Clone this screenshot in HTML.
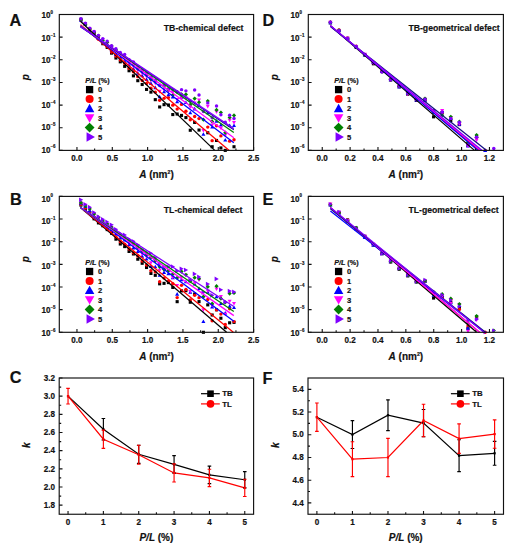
<!DOCTYPE html><html><head><meta charset="utf-8"><style>html,body{margin:0;padding:0;background:#fff}svg{display:block}</style></head><body><svg width="517" height="550" viewBox="0 0 517 550">
<style>text{font-family:"Liberation Sans",sans-serif;font-weight:bold;fill:#111;stroke:#111;stroke-width:0.18px}.t{font-size:8.1px}.al{font-size:10px}.lg{font-size:7.6px}.tt{font-size:8.7px}</style>
<rect width="517" height="550" fill="#fff"/>
<g>
<rect x="79.39" y="17.79" width="3.1" height="3.1" fill="#000000"/><rect x="83.77" y="22.07" width="3.1" height="3.1" fill="#000000"/><rect x="88.14" y="27.63" width="3.1" height="3.1" fill="#000000"/><rect x="92.51" y="31.35" width="3.1" height="3.1" fill="#000000"/><rect x="96.89" y="36.81" width="3.1" height="3.1" fill="#000000"/><rect x="101.26" y="42.16" width="3.1" height="3.1" fill="#000000"/><rect x="105.63" y="45.84" width="3.1" height="3.1" fill="#000000"/><rect x="110.01" y="51.58" width="3.1" height="3.1" fill="#000000"/><rect x="114.38" y="56.49" width="3.1" height="3.1" fill="#000000"/><rect x="118.75" y="60.26" width="3.1" height="3.1" fill="#000000"/><rect x="123.13" y="64.81" width="3.1" height="3.1" fill="#000000"/><rect x="127.5" y="69.2" width="3.1" height="3.1" fill="#000000"/><rect x="131.87" y="74.28" width="3.1" height="3.1" fill="#000000"/><rect x="136.25" y="79.14" width="3.1" height="3.1" fill="#000000"/><rect x="140.62" y="82.96" width="3.1" height="3.1" fill="#000000"/><rect x="144.99" y="87.86" width="3.1" height="3.1" fill="#000000"/><rect x="149.37" y="90.56" width="3.1" height="3.1" fill="#000000"/><rect x="153.74" y="98.11" width="3.1" height="3.1" fill="#000000"/><rect x="158.11" y="105.43" width="3.1" height="3.1" fill="#000000"/><rect x="162.49" y="103.09" width="3.1" height="3.1" fill="#000000"/><rect x="166.86" y="103.45" width="3.1" height="3.1" fill="#000000"/><rect x="171.24" y="113.01" width="3.1" height="3.1" fill="#000000"/><rect x="175.61" y="112.47" width="3.1" height="3.1" fill="#000000"/><rect x="179.98" y="113.86" width="3.1" height="3.1" fill="#000000"/><rect x="184.36" y="116.03" width="3.1" height="3.1" fill="#000000"/><rect x="188.73" y="128.7" width="3.1" height="3.1" fill="#000000"/><rect x="193.1" y="120.86" width="3.1" height="3.1" fill="#000000"/><rect x="197.48" y="128.5" width="3.1" height="3.1" fill="#000000"/><rect x="206.22" y="131.22" width="3.1" height="3.1" fill="#000000"/><rect x="210.6" y="145.2" width="3.1" height="3.1" fill="#000000"/><rect x="214.97" y="138.91" width="3.1" height="3.1" fill="#000000"/><rect x="219.34" y="146.38" width="3.1" height="3.1" fill="#000000"/><rect x="223.72" y="148.85" width="3.1" height="3.1" fill="#000000"/><rect x="232.46" y="145.2" width="3.1" height="3.1" fill="#000000"/>
<circle cx="80.94" cy="20.11" r="1.71" fill="#ff0000"/><circle cx="85.32" cy="24.49" r="1.71" fill="#ff0000"/><circle cx="89.69" cy="29.8" r="1.71" fill="#ff0000"/><circle cx="94.06" cy="33.39" r="1.71" fill="#ff0000"/><circle cx="98.44" cy="39.24" r="1.71" fill="#ff0000"/><circle cx="102.81" cy="42.73" r="1.71" fill="#ff0000"/><circle cx="107.18" cy="46.15" r="1.71" fill="#ff0000"/><circle cx="111.56" cy="51.98" r="1.71" fill="#ff0000"/><circle cx="115.93" cy="55.97" r="1.71" fill="#ff0000"/><circle cx="120.3" cy="60" r="1.71" fill="#ff0000"/><circle cx="124.68" cy="63.39" r="1.71" fill="#ff0000"/><circle cx="129.05" cy="68.24" r="1.71" fill="#ff0000"/><circle cx="133.42" cy="71.77" r="1.71" fill="#ff0000"/><circle cx="137.8" cy="76.66" r="1.71" fill="#ff0000"/><circle cx="142.17" cy="80.55" r="1.71" fill="#ff0000"/><circle cx="146.54" cy="83.45" r="1.71" fill="#ff0000"/><circle cx="150.92" cy="88.25" r="1.71" fill="#ff0000"/><circle cx="155.29" cy="92.14" r="1.71" fill="#ff0000"/><circle cx="159.66" cy="100.24" r="1.71" fill="#ff0000"/><circle cx="164.04" cy="98.36" r="1.71" fill="#ff0000"/><circle cx="168.41" cy="97.59" r="1.71" fill="#ff0000"/><circle cx="172.79" cy="105.13" r="1.71" fill="#ff0000"/><circle cx="177.16" cy="109.11" r="1.71" fill="#ff0000"/><circle cx="181.53" cy="104.38" r="1.71" fill="#ff0000"/><circle cx="185.91" cy="111.18" r="1.71" fill="#ff0000"/><circle cx="190.28" cy="119.82" r="1.71" fill="#ff0000"/><circle cx="194.65" cy="116.45" r="1.71" fill="#ff0000"/><circle cx="199.03" cy="118.62" r="1.71" fill="#ff0000"/><circle cx="207.77" cy="127.09" r="1.71" fill="#ff0000"/><circle cx="212.15" cy="140.65" r="1.71" fill="#ff0000"/><circle cx="216.52" cy="125.73" r="1.71" fill="#ff0000"/><circle cx="220.89" cy="135.89" r="1.71" fill="#ff0000"/><circle cx="229.64" cy="141.14" r="1.71" fill="#ff0000"/><circle cx="234.01" cy="139.74" r="1.71" fill="#ff0000"/>
<path d="M80.94 18.27L82.96 21.84L78.93 21.84Z" fill="#0000ff"/><path d="M85.32 22.55L87.33 26.12L83.3 26.12Z" fill="#0000ff"/><path d="M89.69 28.21L91.7 31.78L87.67 31.78Z" fill="#0000ff"/><path d="M94.06 31.16L96.08 34.72L92.05 34.72Z" fill="#0000ff"/><path d="M98.44 36.15L100.45 39.72L96.42 39.72Z" fill="#0000ff"/><path d="M102.81 40.03L104.82 43.6L100.79 43.6Z" fill="#0000ff"/><path d="M107.18 42.16L109.2 45.72L105.17 45.72Z" fill="#0000ff"/><path d="M111.56 47.57L113.57 51.14L109.54 51.14Z" fill="#0000ff"/><path d="M115.93 52.46L117.94 56.02L113.91 56.02Z" fill="#0000ff"/><path d="M120.3 55.27L122.32 58.83L118.29 58.83Z" fill="#0000ff"/><path d="M124.68 59.34L126.69 62.9L122.66 62.9Z" fill="#0000ff"/><path d="M129.05 62.92L131.07 66.49L127.04 66.49Z" fill="#0000ff"/><path d="M133.42 66.67L135.44 70.24L131.41 70.24Z" fill="#0000ff"/><path d="M137.8 71.18L139.81 74.74L135.78 74.74Z" fill="#0000ff"/><path d="M142.17 73.63L144.19 77.2L140.16 77.2Z" fill="#0000ff"/><path d="M146.54 77.35L148.56 80.92L144.53 80.92Z" fill="#0000ff"/><path d="M150.92 81.37L152.93 84.94L148.9 84.94Z" fill="#0000ff"/><path d="M155.29 85.62L157.31 89.19L153.28 89.19Z" fill="#0000ff"/><path d="M159.66 94.8L161.68 98.36L157.65 98.36Z" fill="#0000ff"/><path d="M164.04 89.71L166.05 93.27L162.02 93.27Z" fill="#0000ff"/><path d="M168.41 92.74L170.43 96.31L166.4 96.31Z" fill="#0000ff"/><path d="M172.79 94.84L174.8 98.4L170.77 98.4Z" fill="#0000ff"/><path d="M177.16 99.77L179.17 103.33L175.14 103.33Z" fill="#0000ff"/><path d="M181.53 95.15L183.55 98.72L179.52 98.72Z" fill="#0000ff"/><path d="M185.91 100.39L187.92 103.95L183.89 103.95Z" fill="#0000ff"/><path d="M190.28 110.76L192.29 114.32L188.26 114.32Z" fill="#0000ff"/><path d="M194.65 106.83L196.67 110.4L192.64 110.4Z" fill="#0000ff"/><path d="M199.03 103.43L201.04 107L197.01 107Z" fill="#0000ff"/><path d="M203.4 132.15L205.41 135.72L201.38 135.72Z" fill="#0000ff"/><path d="M207.77 110.72L209.79 114.29L205.76 114.29Z" fill="#0000ff"/><path d="M212.15 125.06L214.16 128.62L210.13 128.62Z" fill="#0000ff"/><path d="M216.52 119.08L218.54 122.65L214.51 122.65Z" fill="#0000ff"/><path d="M220.89 123.02L222.91 126.59L218.88 126.59Z" fill="#0000ff"/><path d="M225.27 137.93L227.28 141.49L223.25 141.49Z" fill="#0000ff"/><path d="M229.64 123.4L231.66 126.97L227.63 126.97Z" fill="#0000ff"/><path d="M234.01 123.41L236.03 126.98L232 126.98Z" fill="#0000ff"/>
<path d="M80.94 22.61L82.96 19.04L78.93 19.04Z" fill="#ff00ff"/><path d="M85.32 25.73L87.33 22.16L83.3 22.16Z" fill="#ff00ff"/><path d="M89.69 31.19L91.7 27.62L87.67 27.62Z" fill="#ff00ff"/><path d="M94.06 34.15L96.08 30.58L92.05 30.58Z" fill="#ff00ff"/><path d="M98.44 39.24L100.45 35.67L96.42 35.67Z" fill="#ff00ff"/><path d="M102.81 41.95L104.82 38.38L100.79 38.38Z" fill="#ff00ff"/><path d="M107.18 45.56L109.2 41.99L105.17 41.99Z" fill="#ff00ff"/><path d="M111.56 49.41L113.57 45.84L109.54 45.84Z" fill="#ff00ff"/><path d="M115.93 53.54L117.94 49.98L113.91 49.98Z" fill="#ff00ff"/><path d="M120.3 56.79L122.32 53.23L118.29 53.23Z" fill="#ff00ff"/><path d="M124.68 61.06L126.69 57.5L122.66 57.5Z" fill="#ff00ff"/><path d="M129.05 65.56L131.07 62L127.04 62Z" fill="#ff00ff"/><path d="M133.42 68.39L135.44 64.83L131.41 64.83Z" fill="#ff00ff"/><path d="M137.8 72.42L139.81 68.86L135.78 68.86Z" fill="#ff00ff"/><path d="M142.17 75.18L144.19 71.61L140.16 71.61Z" fill="#ff00ff"/><path d="M146.54 78.48L148.56 74.91L144.53 74.91Z" fill="#ff00ff"/><path d="M150.92 82.62L152.93 79.06L148.9 79.06Z" fill="#ff00ff"/><path d="M155.29 85.29L157.31 81.73L153.28 81.73Z" fill="#ff00ff"/><path d="M159.66 93.41L161.68 89.85L157.65 89.85Z" fill="#ff00ff"/><path d="M164.04 91.64L166.05 88.08L162.02 88.08Z" fill="#ff00ff"/><path d="M168.41 93.49L170.43 89.92L166.4 89.92Z" fill="#ff00ff"/><path d="M172.79 94.27L174.8 90.71L170.77 90.71Z" fill="#ff00ff"/><path d="M177.16 101.63L179.17 98.07L175.14 98.07Z" fill="#ff00ff"/><path d="M181.53 99.74L183.55 96.17L179.52 96.17Z" fill="#ff00ff"/><path d="M185.91 100L187.92 96.43L183.89 96.43Z" fill="#ff00ff"/><path d="M190.28 109.06L192.29 105.49L188.26 105.49Z" fill="#ff00ff"/><path d="M194.65 105.15L196.67 101.59L192.64 101.59Z" fill="#ff00ff"/><path d="M199.03 102.1L201.04 98.53L197.01 98.53Z" fill="#ff00ff"/><path d="M203.4 132.58L205.41 129.02L201.38 129.02Z" fill="#ff00ff"/><path d="M207.77 108.38L209.79 104.82L205.76 104.82Z" fill="#ff00ff"/><path d="M212.15 127.14L214.16 123.57L210.13 123.57Z" fill="#ff00ff"/><path d="M216.52 113.93L218.54 110.36L214.51 110.36Z" fill="#ff00ff"/><path d="M220.89 129.98L222.91 126.42L218.88 126.42Z" fill="#ff00ff"/><path d="M225.27 137.31L227.28 133.74L223.25 133.74Z" fill="#ff00ff"/><path d="M229.64 122.32L231.66 118.76L227.63 118.76Z" fill="#ff00ff"/><path d="M234.01 124.53L236.03 120.97L232 120.97Z" fill="#ff00ff"/>
<path d="M80.94 17.54L83.03 19.63L80.94 21.73L78.85 19.63Z" fill="#008000"/><path d="M85.32 22.3L87.41 24.39L85.32 26.48L83.22 24.39Z" fill="#008000"/><path d="M89.69 27L91.78 29.1L89.69 31.19L87.6 29.1Z" fill="#008000"/><path d="M94.06 30.19L96.15 32.28L94.06 34.37L91.97 32.28Z" fill="#008000"/><path d="M98.44 33.74L100.53 35.83L98.44 37.93L96.34 35.83Z" fill="#008000"/><path d="M102.81 38.35L104.9 40.44L102.81 42.53L100.72 40.44Z" fill="#008000"/><path d="M107.18 40.14L109.28 42.24L107.18 44.33L105.09 42.24Z" fill="#008000"/><path d="M111.56 43.98L113.65 46.07L111.56 48.16L109.46 46.07Z" fill="#008000"/><path d="M115.93 47.69L118.02 49.78L115.93 51.87L113.84 49.78Z" fill="#008000"/><path d="M120.3 51.76L122.4 53.85L120.3 55.94L118.21 53.85Z" fill="#008000"/><path d="M124.68 55.06L126.77 57.15L124.68 59.24L122.58 57.15Z" fill="#008000"/><path d="M129.05 59.08L131.14 61.17L129.05 63.26L126.96 61.17Z" fill="#008000"/><path d="M133.42 62.35L135.52 64.45L133.42 66.54L131.33 64.45Z" fill="#008000"/><path d="M137.8 66.31L139.89 68.4L137.8 70.5L135.7 68.4Z" fill="#008000"/><path d="M142.17 69.03L144.26 71.12L142.17 73.21L140.08 71.12Z" fill="#008000"/><path d="M146.54 72.55L148.64 74.64L146.54 76.73L144.45 74.64Z" fill="#008000"/><path d="M150.92 77.15L153.01 79.24L150.92 81.33L148.83 79.24Z" fill="#008000"/><path d="M155.29 78.95L157.38 81.04L155.29 83.14L153.2 81.04Z" fill="#008000"/><path d="M159.66 83.12L161.76 85.21L159.66 87.31L157.57 85.21Z" fill="#008000"/><path d="M164.04 83.83L166.13 85.93L164.04 88.02L161.95 85.93Z" fill="#008000"/><path d="M168.41 87.33L170.5 89.42L168.41 91.52L166.32 89.42Z" fill="#008000"/><path d="M172.79 92.92L174.88 95.02L172.79 97.11L170.69 95.02Z" fill="#008000"/><path d="M177.16 90.03L179.25 92.12L177.16 94.21L175.07 92.12Z" fill="#008000"/><path d="M181.53 92.28L183.62 94.37L181.53 96.46L179.44 94.37Z" fill="#008000"/><path d="M185.91 92.29L188 94.38L185.91 96.47L183.81 94.38Z" fill="#008000"/><path d="M190.28 102.6L192.37 104.69L190.28 106.79L188.19 104.69Z" fill="#008000"/><path d="M194.65 96.44L196.75 98.54L194.65 100.63L192.56 98.54Z" fill="#008000"/><path d="M199.03 100.13L201.12 102.22L199.03 104.31L196.93 102.22Z" fill="#008000"/><path d="M203.4 117.61L205.49 119.7L203.4 121.79L201.31 119.7Z" fill="#008000"/><path d="M207.77 98.89L209.87 100.98L207.77 103.07L205.68 100.98Z" fill="#008000"/><path d="M212.15 119.28L214.24 121.38L212.15 123.47L210.05 121.38Z" fill="#008000"/><path d="M216.52 107.83L218.61 109.92L216.52 112.01L214.43 109.92Z" fill="#008000"/><path d="M220.89 110.4L222.99 112.49L220.89 114.59L218.8 112.49Z" fill="#008000"/><path d="M225.27 130.56L227.36 132.65L225.27 134.74L223.18 132.65Z" fill="#008000"/><path d="M229.64 115.4L231.73 117.5L229.64 119.59L227.55 117.5Z" fill="#008000"/><path d="M234.01 113.35L236.11 115.44L234.01 117.53L231.92 115.44Z" fill="#008000"/>
<circle cx="80.94" cy="18.83" r="1.71" fill="#8000ff"/><circle cx="85.32" cy="23.21" r="1.71" fill="#8000ff"/><circle cx="89.69" cy="28.22" r="1.71" fill="#8000ff"/><circle cx="94.06" cy="31.42" r="1.71" fill="#8000ff"/><circle cx="98.44" cy="35.35" r="1.71" fill="#8000ff"/><circle cx="102.81" cy="38.61" r="1.71" fill="#8000ff"/><circle cx="107.18" cy="41.12" r="1.71" fill="#8000ff"/><circle cx="111.56" cy="45.75" r="1.71" fill="#8000ff"/><circle cx="115.93" cy="48.67" r="1.71" fill="#8000ff"/><circle cx="120.3" cy="52.43" r="1.71" fill="#8000ff"/><circle cx="124.68" cy="54.52" r="1.71" fill="#8000ff"/><circle cx="129.05" cy="59.77" r="1.71" fill="#8000ff"/><circle cx="133.42" cy="61.84" r="1.71" fill="#8000ff"/><circle cx="137.8" cy="66.74" r="1.71" fill="#8000ff"/><circle cx="142.17" cy="69.74" r="1.71" fill="#8000ff"/><circle cx="146.54" cy="73.31" r="1.71" fill="#8000ff"/><circle cx="150.92" cy="77.33" r="1.71" fill="#8000ff"/><circle cx="155.29" cy="80.1" r="1.71" fill="#8000ff"/><circle cx="159.66" cy="85.44" r="1.71" fill="#8000ff"/><circle cx="164.04" cy="84.94" r="1.71" fill="#8000ff"/><circle cx="168.41" cy="88.62" r="1.71" fill="#8000ff"/><circle cx="172.79" cy="89.49" r="1.71" fill="#8000ff"/><circle cx="177.16" cy="92.05" r="1.71" fill="#8000ff"/><circle cx="181.53" cy="89.65" r="1.71" fill="#8000ff"/><circle cx="185.91" cy="90.84" r="1.71" fill="#8000ff"/><circle cx="190.28" cy="101.07" r="1.71" fill="#8000ff"/><circle cx="194.65" cy="89.99" r="1.71" fill="#8000ff"/><circle cx="199.03" cy="94.94" r="1.71" fill="#8000ff"/><circle cx="203.4" cy="111.58" r="1.71" fill="#8000ff"/><circle cx="207.77" cy="102.88" r="1.71" fill="#8000ff"/><circle cx="212.15" cy="117.66" r="1.71" fill="#8000ff"/><circle cx="216.52" cy="106.05" r="1.71" fill="#8000ff"/><circle cx="220.89" cy="114.75" r="1.71" fill="#8000ff"/><circle cx="225.27" cy="122.16" r="1.71" fill="#8000ff"/><circle cx="229.64" cy="115.29" r="1.71" fill="#8000ff"/><circle cx="234.01" cy="118.58" r="1.71" fill="#8000ff"/>
<path d="M80.5 21.29L214.74 150.4" stroke="#000000" stroke-width="1.25" fill="none"/>
<path d="M80.5 24.69L229.2 150.4" stroke="#ff0000" stroke-width="1.25" fill="none"/>
<path d="M80.5 25.83L233.82 142.8" stroke="#0000ff" stroke-width="1.25" fill="none"/>
<path d="M80.5 25.83L233.82 137.74" stroke="#ff00ff" stroke-width="1.25" fill="none"/>
<path d="M80.5 26.28L233.82 132.44" stroke="#008000" stroke-width="1.25" fill="none"/>
<path d="M80.5 26.73L233.82 129.7" stroke="#1a1a8c" stroke-width="1.1" fill="none"/>
<path d="M80.5 26.62L233.82 128.61" stroke="#8000ff" stroke-width="1.25" fill="none"/>
</g>
<rect x="59.3" y="14.5" width="194.3" height="135.9" fill="none" stroke="#111" stroke-width="1.15"/>
<path d="M76.96 150.4v-3.3M112.29 150.4v-3.3M147.62 150.4v-3.3M182.95 150.4v-3.3M218.27 150.4v-3.3M253.6 150.4v-3.3M94.63 150.4v-2.0M129.95 150.4v-2.0M165.28 150.4v-2.0M200.61 150.4v-2.0M235.94 150.4v-2.0" stroke="#111" stroke-width="1.1" fill="none"/>
<text transform="translate(76.96,160.8) scale(1,1.05)" text-anchor="middle" class="t">0.0</text>
<text transform="translate(112.29,160.8) scale(1,1.05)" text-anchor="middle" class="t">0.5</text>
<text transform="translate(147.62,160.8) scale(1,1.05)" text-anchor="middle" class="t">1.0</text>
<text transform="translate(182.95,160.8) scale(1,1.05)" text-anchor="middle" class="t">1.5</text>
<text transform="translate(218.27,160.8) scale(1,1.05)" text-anchor="middle" class="t">2.0</text>
<text transform="translate(253.6,160.8) scale(1,1.05)" text-anchor="middle" class="t">2.5</text>
<path d="M59.3 14.5h3.3M59.3 37.15h3.3M59.3 59.8h3.3M59.3 82.45h3.3M59.3 105.1h3.3M59.3 127.75h3.3M59.3 150.4h3.3" stroke="#111" stroke-width="1.1" fill="none"/>
<text transform="translate(55,17.2) scale(1,1.2)" text-anchor="end" class="t"></text>
<text transform="translate(55,39.85) scale(1,1.2)" text-anchor="end" class="t"></text>
<text transform="translate(55,62.5) scale(1,1.2)" text-anchor="end" class="t"></text>
<text transform="translate(55,85.15) scale(1,1.2)" text-anchor="end" class="t"></text>
<text transform="translate(55,107.8) scale(1,1.2)" text-anchor="end" class="t"></text>
<text transform="translate(55,130.45) scale(1,1.2)" text-anchor="end" class="t"></text>
<text transform="translate(55,153.1) scale(1,1.2)" text-anchor="end" class="t"></text>
<text transform="translate(41.4,18.4) scale(1,1.04)" class="t">10<tspan dy="-3.9" font-size="4.4">0</tspan></text>
<text transform="translate(41.4,40.75) scale(1,1.04)" class="t">10<tspan dy="-3.9" font-size="4.4">&#8722;1</tspan></text>
<text transform="translate(41.4,63.1) scale(1,1.04)" class="t">10<tspan dy="-3.9" font-size="4.4">&#8722;2</tspan></text>
<text transform="translate(41.4,85.45) scale(1,1.04)" class="t">10<tspan dy="-3.9" font-size="4.4">&#8722;3</tspan></text>
<text transform="translate(41.4,107.8) scale(1,1.04)" class="t">10<tspan dy="-3.9" font-size="4.4">&#8722;4</tspan></text>
<text transform="translate(41.4,130.15) scale(1,1.04)" class="t">10<tspan dy="-3.9" font-size="4.4">&#8722;5</tspan></text>
<text transform="translate(41.4,152.5) scale(1,1.04)" class="t">10<tspan dy="-3.9" font-size="4.4">&#8722;6</tspan></text>
<text x="9.5" y="25.6" font-size="16.3" font-weight="bold">A</text>
<text x="156.45" y="177.9" text-anchor="middle" class="al"><tspan font-style="italic">A</tspan> (nm<tspan dy="-4.1" font-size="5.2">2</tspan><tspan dy="4.1">)</tspan></text>
<text transform="translate(29.2,77.2) rotate(-90)" text-anchor="middle" class="al" font-style="italic">p</text>
<text x="163.8" y="30.5" class="tt">TB-chemical defect</text>
<text x="85.2" y="83.3" class="lg" style="font-size:7.2px"><tspan font-style="italic">P/L</tspan> (%)</text>
<rect x="85.95" y="85.95" width="7.3" height="7.3" fill="#000000"/>
<text x="98" y="92.3" class="lg">0</text>
<circle cx="89.6" cy="99.1" r="4.02" fill="#ff0000"/>
<text x="98" y="101.8" class="lg">1</text>
<path d="M89.6 103.74L94.34 112.13L84.85 112.13Z" fill="#0000ff"/>
<text x="98" y="111.3" class="lg">2</text>
<path d="M89.6 122.66L94.34 114.27L84.85 114.27Z" fill="#ff00ff"/>
<text x="98" y="120.8" class="lg">3</text>
<path d="M89.6 122.67L94.53 127.6L89.6 132.53L84.67 127.6Z" fill="#008000"/>
<text x="98" y="130.3" class="lg">4</text>
<path d="M94.96 137.1L86.57 132.35L86.57 141.84Z" fill="#8000ff"/>
<text x="98" y="139.8" class="lg">5</text>
<g>
<rect x="79.39" y="203.6" width="3.1" height="3.1" fill="#000000"/><rect x="83.77" y="208.16" width="3.1" height="3.1" fill="#000000"/><rect x="88.14" y="211.59" width="3.1" height="3.1" fill="#000000"/><rect x="92.51" y="217.31" width="3.1" height="3.1" fill="#000000"/><rect x="96.89" y="221.36" width="3.1" height="3.1" fill="#000000"/><rect x="101.26" y="224.19" width="3.1" height="3.1" fill="#000000"/><rect x="105.63" y="228.04" width="3.1" height="3.1" fill="#000000"/><rect x="110.01" y="231.75" width="3.1" height="3.1" fill="#000000"/><rect x="114.38" y="237.62" width="3.1" height="3.1" fill="#000000"/><rect x="118.75" y="242.46" width="3.1" height="3.1" fill="#000000"/><rect x="123.13" y="245.03" width="3.1" height="3.1" fill="#000000"/><rect x="127.5" y="249.9" width="3.1" height="3.1" fill="#000000"/><rect x="131.87" y="252.42" width="3.1" height="3.1" fill="#000000"/><rect x="136.25" y="257.65" width="3.1" height="3.1" fill="#000000"/><rect x="140.62" y="261.72" width="3.1" height="3.1" fill="#000000"/><rect x="144.99" y="265.94" width="3.1" height="3.1" fill="#000000"/><rect x="149.37" y="271.9" width="3.1" height="3.1" fill="#000000"/><rect x="153.74" y="273.77" width="3.1" height="3.1" fill="#000000"/><rect x="158.11" y="282.26" width="3.1" height="3.1" fill="#000000"/><rect x="162.49" y="281.79" width="3.1" height="3.1" fill="#000000"/><rect x="166.86" y="281.04" width="3.1" height="3.1" fill="#000000"/><rect x="171.24" y="285.86" width="3.1" height="3.1" fill="#000000"/><rect x="175.61" y="300.12" width="3.1" height="3.1" fill="#000000"/><rect x="179.98" y="289.34" width="3.1" height="3.1" fill="#000000"/><rect x="184.36" y="289.11" width="3.1" height="3.1" fill="#000000"/><rect x="188.73" y="300.69" width="3.1" height="3.1" fill="#000000"/><rect x="193.1" y="292.48" width="3.1" height="3.1" fill="#000000"/><rect x="197.48" y="300.07" width="3.1" height="3.1" fill="#000000"/><rect x="201.85" y="330.75" width="3.1" height="3.1" fill="#000000"/><rect x="206.22" y="303.31" width="3.1" height="3.1" fill="#000000"/><rect x="210.6" y="313.46" width="3.1" height="3.1" fill="#000000"/><rect x="214.97" y="308.25" width="3.1" height="3.1" fill="#000000"/><rect x="219.34" y="316.67" width="3.1" height="3.1" fill="#000000"/><rect x="223.72" y="326.09" width="3.1" height="3.1" fill="#000000"/><rect x="228.09" y="321.25" width="3.1" height="3.1" fill="#000000"/><rect x="232.46" y="320.82" width="3.1" height="3.1" fill="#000000"/>
<circle cx="80.94" cy="204.18" r="1.71" fill="#ff0000"/><circle cx="85.32" cy="208" r="1.71" fill="#ff0000"/><circle cx="89.69" cy="211.91" r="1.71" fill="#ff0000"/><circle cx="94.06" cy="216.99" r="1.71" fill="#ff0000"/><circle cx="98.44" cy="221.57" r="1.71" fill="#ff0000"/><circle cx="102.81" cy="224.42" r="1.71" fill="#ff0000"/><circle cx="107.18" cy="228.2" r="1.71" fill="#ff0000"/><circle cx="111.56" cy="230.52" r="1.71" fill="#ff0000"/><circle cx="115.93" cy="236.99" r="1.71" fill="#ff0000"/><circle cx="120.3" cy="241.73" r="1.71" fill="#ff0000"/><circle cx="124.68" cy="244.31" r="1.71" fill="#ff0000"/><circle cx="129.05" cy="248.95" r="1.71" fill="#ff0000"/><circle cx="133.42" cy="252.78" r="1.71" fill="#ff0000"/><circle cx="137.8" cy="256" r="1.71" fill="#ff0000"/><circle cx="142.17" cy="261.01" r="1.71" fill="#ff0000"/><circle cx="146.54" cy="264.92" r="1.71" fill="#ff0000"/><circle cx="150.92" cy="270.76" r="1.71" fill="#ff0000"/><circle cx="155.29" cy="271.91" r="1.71" fill="#ff0000"/><circle cx="159.66" cy="281.73" r="1.71" fill="#ff0000"/><circle cx="164.04" cy="278.11" r="1.71" fill="#ff0000"/><circle cx="168.41" cy="281.31" r="1.71" fill="#ff0000"/><circle cx="172.79" cy="283.74" r="1.71" fill="#ff0000"/><circle cx="177.16" cy="297.62" r="1.71" fill="#ff0000"/><circle cx="181.53" cy="285.37" r="1.71" fill="#ff0000"/><circle cx="185.91" cy="289.46" r="1.71" fill="#ff0000"/><circle cx="190.28" cy="299.9" r="1.71" fill="#ff0000"/><circle cx="194.65" cy="295.35" r="1.71" fill="#ff0000"/><circle cx="199.03" cy="297.66" r="1.71" fill="#ff0000"/><circle cx="207.77" cy="299.43" r="1.71" fill="#ff0000"/><circle cx="212.15" cy="320.75" r="1.71" fill="#ff0000"/><circle cx="216.52" cy="309.85" r="1.71" fill="#ff0000"/><circle cx="220.89" cy="314.09" r="1.71" fill="#ff0000"/><circle cx="225.27" cy="324.51" r="1.71" fill="#ff0000"/><circle cx="229.64" cy="308.74" r="1.71" fill="#ff0000"/><circle cx="234.01" cy="321.61" r="1.71" fill="#ff0000"/>
<path d="M80.94 201.08L82.96 204.65L78.93 204.65Z" fill="#0000ff"/><path d="M85.32 204.42L87.33 207.98L83.3 207.98Z" fill="#0000ff"/><path d="M89.69 208.58L91.7 212.14L87.67 212.14Z" fill="#0000ff"/><path d="M94.06 214.27L96.08 217.84L92.05 217.84Z" fill="#0000ff"/><path d="M98.44 217.38L100.45 220.95L96.42 220.95Z" fill="#0000ff"/><path d="M102.81 219.78L104.82 223.35L100.79 223.35Z" fill="#0000ff"/><path d="M107.18 223.55L109.2 227.11L105.17 227.11Z" fill="#0000ff"/><path d="M111.56 227.42L113.57 230.99L109.54 230.99Z" fill="#0000ff"/><path d="M115.93 232.04L117.94 235.6L113.91 235.6Z" fill="#0000ff"/><path d="M120.3 235.9L122.32 239.46L118.29 239.46Z" fill="#0000ff"/><path d="M124.68 237.88L126.69 241.45L122.66 241.45Z" fill="#0000ff"/><path d="M129.05 242.62L131.07 246.19L127.04 246.19Z" fill="#0000ff"/><path d="M133.42 246.01L135.44 249.57L131.41 249.57Z" fill="#0000ff"/><path d="M137.8 249.48L139.81 253.04L135.78 253.04Z" fill="#0000ff"/><path d="M142.17 254.29L144.19 257.86L140.16 257.86Z" fill="#0000ff"/><path d="M146.54 256.89L148.56 260.45L144.53 260.45Z" fill="#0000ff"/><path d="M150.92 264.47L152.93 268.04L148.9 268.04Z" fill="#0000ff"/><path d="M155.29 264.79L157.31 268.36L153.28 268.36Z" fill="#0000ff"/><path d="M159.66 273.22L161.68 276.78L157.65 276.78Z" fill="#0000ff"/><path d="M164.04 270.36L166.05 273.93L162.02 273.93Z" fill="#0000ff"/><path d="M168.41 271.59L170.43 275.16L166.4 275.16Z" fill="#0000ff"/><path d="M172.79 275.65L174.8 279.22L170.77 279.22Z" fill="#0000ff"/><path d="M177.16 292.11L179.17 295.67L175.14 295.67Z" fill="#0000ff"/><path d="M181.53 277.62L183.55 281.18L179.52 281.18Z" fill="#0000ff"/><path d="M185.91 279.73L187.92 283.29L183.89 283.29Z" fill="#0000ff"/><path d="M190.28 290.3L192.29 293.86L188.26 293.86Z" fill="#0000ff"/><path d="M194.65 281.95L196.67 285.51L192.64 285.51Z" fill="#0000ff"/><path d="M199.03 286.52L201.04 290.09L197.01 290.09Z" fill="#0000ff"/><path d="M203.4 319.43L205.41 322.99L201.38 322.99Z" fill="#0000ff"/><path d="M207.77 290.18L209.79 293.75L205.76 293.75Z" fill="#0000ff"/><path d="M212.15 304.81L214.16 308.38L210.13 308.38Z" fill="#0000ff"/><path d="M216.52 294.75L218.54 298.32L214.51 298.32Z" fill="#0000ff"/><path d="M220.89 301.4L222.91 304.97L218.88 304.97Z" fill="#0000ff"/><path d="M225.27 310.98L227.28 314.54L223.25 314.54Z" fill="#0000ff"/><path d="M229.64 304.06L231.66 307.63L227.63 307.63Z" fill="#0000ff"/><path d="M234.01 305.54L236.03 309.1L232 309.1Z" fill="#0000ff"/>
<path d="M80.94 205.01L82.96 201.44L78.93 201.44Z" fill="#ff00ff"/><path d="M85.32 207.41L87.33 203.85L83.3 203.85Z" fill="#ff00ff"/><path d="M89.69 211.25L91.7 207.68L87.67 207.68Z" fill="#ff00ff"/><path d="M94.06 216.62L96.08 213.05L92.05 213.05Z" fill="#ff00ff"/><path d="M98.44 220.91L100.45 217.35L96.42 217.35Z" fill="#ff00ff"/><path d="M102.81 224.03L104.82 220.47L100.79 220.47Z" fill="#ff00ff"/><path d="M107.18 226.65L109.2 223.08L105.17 223.08Z" fill="#ff00ff"/><path d="M111.56 229.65L113.57 226.09L109.54 226.09Z" fill="#ff00ff"/><path d="M115.93 233.56L117.94 229.99L113.91 229.99Z" fill="#ff00ff"/><path d="M120.3 237.71L122.32 234.14L118.29 234.14Z" fill="#ff00ff"/><path d="M124.68 240.73L126.69 237.17L122.66 237.17Z" fill="#ff00ff"/><path d="M129.05 245.22L131.07 241.66L127.04 241.66Z" fill="#ff00ff"/><path d="M133.42 246.82L135.44 243.26L131.41 243.26Z" fill="#ff00ff"/><path d="M137.8 251.15L139.81 247.58L135.78 247.58Z" fill="#ff00ff"/><path d="M142.17 255.94L144.19 252.37L140.16 252.37Z" fill="#ff00ff"/><path d="M146.54 258.67L148.56 255.1L144.53 255.1Z" fill="#ff00ff"/><path d="M150.92 264.74L152.93 261.17L148.9 261.17Z" fill="#ff00ff"/><path d="M155.29 262.4L157.31 258.84L153.28 258.84Z" fill="#ff00ff"/><path d="M159.66 272.31L161.68 268.75L157.65 268.75Z" fill="#ff00ff"/><path d="M164.04 271.79L166.05 268.22L162.02 268.22Z" fill="#ff00ff"/><path d="M168.41 273.03L170.43 269.46L166.4 269.46Z" fill="#ff00ff"/><path d="M172.79 279.41L174.8 275.84L170.77 275.84Z" fill="#ff00ff"/><path d="M177.16 287.57L179.17 284.01L175.14 284.01Z" fill="#ff00ff"/><path d="M181.53 279.2L183.55 275.63L179.52 275.63Z" fill="#ff00ff"/><path d="M185.91 277.33L187.92 273.77L183.89 273.77Z" fill="#ff00ff"/><path d="M190.28 293.51L192.29 289.94L188.26 289.94Z" fill="#ff00ff"/><path d="M194.65 285.04L196.67 281.47L192.64 281.47Z" fill="#ff00ff"/><path d="M199.03 282.09L201.04 278.53L197.01 278.53Z" fill="#ff00ff"/><path d="M203.4 311.89L205.41 308.33L201.38 308.33Z" fill="#ff00ff"/><path d="M207.77 292.98L209.79 289.42L205.76 289.42Z" fill="#ff00ff"/><path d="M212.15 307.51L214.16 303.94L210.13 303.94Z" fill="#ff00ff"/><path d="M216.52 291.06L218.54 287.49L214.51 287.49Z" fill="#ff00ff"/><path d="M220.89 298.57L222.91 295.01L218.88 295.01Z" fill="#ff00ff"/><path d="M225.27 316.3L227.28 312.74L223.25 312.74Z" fill="#ff00ff"/><path d="M229.64 303.24L231.66 299.67L227.63 299.67Z" fill="#ff00ff"/><path d="M234.01 305.6L236.03 302.03L232 302.03Z" fill="#ff00ff"/>
<path d="M80.94 200.68L83.03 202.77L80.94 204.87L78.85 202.77Z" fill="#008000"/><path d="M85.32 203.94L87.41 206.03L85.32 208.12L83.22 206.03Z" fill="#008000"/><path d="M89.69 206.91L91.78 209L89.69 211.09L87.6 209Z" fill="#008000"/><path d="M94.06 211.79L96.15 213.89L94.06 215.98L91.97 213.89Z" fill="#008000"/><path d="M98.44 215.37L100.53 217.46L98.44 219.55L96.34 217.46Z" fill="#008000"/><path d="M102.81 218.9L104.9 221L102.81 223.09L100.72 221Z" fill="#008000"/><path d="M107.18 221.96L109.28 224.05L107.18 226.14L105.09 224.05Z" fill="#008000"/><path d="M111.56 225.18L113.65 227.27L111.56 229.37L109.46 227.27Z" fill="#008000"/><path d="M115.93 229.39L118.02 231.49L115.93 233.58L113.84 231.49Z" fill="#008000"/><path d="M120.3 233.03L122.4 235.12L120.3 237.21L118.21 235.12Z" fill="#008000"/><path d="M124.68 235.4L126.77 237.5L124.68 239.59L122.58 237.5Z" fill="#008000"/><path d="M129.05 238.29L131.14 240.38L129.05 242.48L126.96 240.38Z" fill="#008000"/><path d="M133.42 241.01L135.52 243.1L133.42 245.2L131.33 243.1Z" fill="#008000"/><path d="M137.8 245.07L139.89 247.16L137.8 249.26L135.7 247.16Z" fill="#008000"/><path d="M142.17 248.88L144.26 250.97L142.17 253.07L140.08 250.97Z" fill="#008000"/><path d="M146.54 252.71L148.64 254.81L146.54 256.9L144.45 254.81Z" fill="#008000"/><path d="M150.92 255.37L153.01 257.46L150.92 259.55L148.83 257.46Z" fill="#008000"/><path d="M155.29 259.02L157.38 261.11L155.29 263.2L153.2 261.11Z" fill="#008000"/><path d="M159.66 264.75L161.76 266.84L159.66 268.94L157.57 266.84Z" fill="#008000"/><path d="M164.04 267.4L166.13 269.49L164.04 271.58L161.95 269.49Z" fill="#008000"/><path d="M168.41 268.58L170.5 270.67L168.41 272.77L166.32 270.67Z" fill="#008000"/><path d="M172.79 272.03L174.88 274.12L172.79 276.21L170.69 274.12Z" fill="#008000"/><path d="M177.16 275.72L179.25 277.81L177.16 279.9L175.07 277.81Z" fill="#008000"/><path d="M181.53 269.5L183.62 271.59L181.53 273.69L179.44 271.59Z" fill="#008000"/><path d="M185.91 272.63L188 274.73L185.91 276.82L183.81 274.73Z" fill="#008000"/><path d="M190.28 279.03L192.37 281.13L190.28 283.22L188.19 281.13Z" fill="#008000"/><path d="M194.65 275.56L196.75 277.65L194.65 279.74L192.56 277.65Z" fill="#008000"/><path d="M199.03 276.64L201.12 278.73L199.03 280.82L196.93 278.73Z" fill="#008000"/><path d="M203.4 294.58L205.49 296.67L203.4 298.76L201.31 296.67Z" fill="#008000"/><path d="M207.77 284.71L209.87 286.8L207.77 288.89L205.68 286.8Z" fill="#008000"/><path d="M212.15 301.54L214.24 303.64L212.15 305.73L210.05 303.64Z" fill="#008000"/><path d="M216.52 284.07L218.61 286.17L216.52 288.26L214.43 286.17Z" fill="#008000"/><path d="M220.89 296.47L222.99 298.56L220.89 300.66L218.8 298.56Z" fill="#008000"/><path d="M225.27 300.21L227.36 302.3L225.27 304.4L223.18 302.3Z" fill="#008000"/><path d="M229.64 291.53L231.73 293.62L229.64 295.72L227.55 293.62Z" fill="#008000"/><path d="M234.01 290.85L236.11 292.94L234.01 295.03L231.92 292.94Z" fill="#008000"/>
<path d="M83.19 199.79L79.05 197.45L79.05 202.13Z" fill="#8000ff"/><path d="M87.57 204.43L83.43 202.09L83.43 206.77Z" fill="#8000ff"/><path d="M91.94 207.19L87.8 204.85L87.8 209.53Z" fill="#8000ff"/><path d="M96.31 212.48L92.17 210.14L92.17 214.82Z" fill="#8000ff"/><path d="M100.69 216.67L96.55 214.33L96.55 219.01Z" fill="#8000ff"/><path d="M105.06 219.33L100.92 216.99L100.92 221.67Z" fill="#8000ff"/><path d="M109.43 221.95L105.29 219.61L105.29 224.29Z" fill="#8000ff"/><path d="M113.81 224.82L109.67 222.48L109.67 227.16Z" fill="#8000ff"/><path d="M118.18 229.29L114.04 226.95L114.04 231.63Z" fill="#8000ff"/><path d="M122.55 233.44L118.41 231.1L118.41 235.78Z" fill="#8000ff"/><path d="M126.93 234.94L122.79 232.6L122.79 237.28Z" fill="#8000ff"/><path d="M131.3 239.15L127.16 236.81L127.16 241.49Z" fill="#8000ff"/><path d="M135.67 241.29L131.53 238.95L131.53 243.63Z" fill="#8000ff"/><path d="M140.05 244.87L135.91 242.53L135.91 247.21Z" fill="#8000ff"/><path d="M144.42 249.43L140.28 247.09L140.28 251.77Z" fill="#8000ff"/><path d="M148.79 252.41L144.65 250.07L144.65 254.75Z" fill="#8000ff"/><path d="M153.17 253.29L149.03 250.95L149.03 255.63Z" fill="#8000ff"/><path d="M157.54 257.92L153.4 255.58L153.4 260.26Z" fill="#8000ff"/><path d="M161.91 263.58L157.77 261.24L157.77 265.92Z" fill="#8000ff"/><path d="M166.29 266.54L162.15 264.2L162.15 268.88Z" fill="#8000ff"/><path d="M170.66 266.75L166.52 264.41L166.52 269.09Z" fill="#8000ff"/><path d="M175.04 266.63L170.9 264.29L170.9 268.97Z" fill="#8000ff"/><path d="M179.41 270.97L175.27 268.63L175.27 273.31Z" fill="#8000ff"/><path d="M183.78 268.85L179.64 266.51L179.64 271.19Z" fill="#8000ff"/><path d="M188.16 269.99L184.02 267.65L184.02 272.33Z" fill="#8000ff"/><path d="M192.53 280.42L188.39 278.08L188.39 282.76Z" fill="#8000ff"/><path d="M196.9 273.95L192.76 271.61L192.76 276.29Z" fill="#8000ff"/><path d="M201.28 276.94L197.14 274.6L197.14 279.28Z" fill="#8000ff"/><path d="M205.65 292.42L201.51 290.08L201.51 294.76Z" fill="#8000ff"/><path d="M210.02 284.02L205.88 281.68L205.88 286.36Z" fill="#8000ff"/><path d="M214.4 295.34L210.26 293L210.26 297.68Z" fill="#8000ff"/><path d="M218.77 278.88L214.63 276.54L214.63 281.22Z" fill="#8000ff"/><path d="M223.14 289.82L219 287.48L219 292.16Z" fill="#8000ff"/><path d="M227.52 302.32L223.38 299.98L223.38 304.66Z" fill="#8000ff"/><path d="M231.89 291.05L227.75 288.71L227.75 293.39Z" fill="#8000ff"/><path d="M236.26 291.95L232.12 289.61L232.12 294.29Z" fill="#8000ff"/>
<path d="M80.5 207.5L226.58 332.3" stroke="#000000" stroke-width="1.25" fill="none"/>
<path d="M80.5 207.5L233.29 332.3" stroke="#ff0000" stroke-width="1.25" fill="none"/>
<path d="M80.5 207.5L233.82 321.33" stroke="#0000ff" stroke-width="1.25" fill="none"/>
<path d="M80.5 207.5L233.82 315.63" stroke="#ff00ff" stroke-width="1.25" fill="none"/>
<path d="M80.5 207.5L233.82 311.45" stroke="#008000" stroke-width="1.25" fill="none"/>
<path d="M80.5 207.5L233.82 306.59" stroke="#8000ff" stroke-width="1.25" fill="none"/>
</g>
<rect x="59.3" y="196.4" width="194.3" height="135.9" fill="none" stroke="#111" stroke-width="1.15"/>
<path d="M76.96 332.3v-3.3M112.29 332.3v-3.3M147.62 332.3v-3.3M182.95 332.3v-3.3M218.27 332.3v-3.3M253.6 332.3v-3.3M94.63 332.3v-2.0M129.95 332.3v-2.0M165.28 332.3v-2.0M200.61 332.3v-2.0M235.94 332.3v-2.0" stroke="#111" stroke-width="1.1" fill="none"/>
<text transform="translate(76.96,342.7) scale(1,1.05)" text-anchor="middle" class="t">0.0</text>
<text transform="translate(112.29,342.7) scale(1,1.05)" text-anchor="middle" class="t">0.5</text>
<text transform="translate(147.62,342.7) scale(1,1.05)" text-anchor="middle" class="t">1.0</text>
<text transform="translate(182.95,342.7) scale(1,1.05)" text-anchor="middle" class="t">1.5</text>
<text transform="translate(218.27,342.7) scale(1,1.05)" text-anchor="middle" class="t">2.0</text>
<text transform="translate(253.6,342.7) scale(1,1.05)" text-anchor="middle" class="t">2.5</text>
<path d="M59.3 196.4h3.3M59.3 219.05h3.3M59.3 241.7h3.3M59.3 264.35h3.3M59.3 287h3.3M59.3 309.65h3.3M59.3 332.3h3.3" stroke="#111" stroke-width="1.1" fill="none"/>
<text transform="translate(55,199.1) scale(1,1.2)" text-anchor="end" class="t"></text>
<text transform="translate(55,221.75) scale(1,1.2)" text-anchor="end" class="t"></text>
<text transform="translate(55,244.4) scale(1,1.2)" text-anchor="end" class="t"></text>
<text transform="translate(55,267.05) scale(1,1.2)" text-anchor="end" class="t"></text>
<text transform="translate(55,289.7) scale(1,1.2)" text-anchor="end" class="t"></text>
<text transform="translate(55,312.35) scale(1,1.2)" text-anchor="end" class="t"></text>
<text transform="translate(55,335) scale(1,1.2)" text-anchor="end" class="t"></text>
<text transform="translate(41.4,201.5) scale(1,1.04)" class="t">10<tspan dy="-3.9" font-size="4.4">0</tspan></text>
<text transform="translate(41.4,223.85) scale(1,1.04)" class="t">10<tspan dy="-3.9" font-size="4.4">&#8722;1</tspan></text>
<text transform="translate(41.4,246.2) scale(1,1.04)" class="t">10<tspan dy="-3.9" font-size="4.4">&#8722;2</tspan></text>
<text transform="translate(41.4,268.55) scale(1,1.04)" class="t">10<tspan dy="-3.9" font-size="4.4">&#8722;3</tspan></text>
<text transform="translate(41.4,290.9) scale(1,1.04)" class="t">10<tspan dy="-3.9" font-size="4.4">&#8722;4</tspan></text>
<text transform="translate(41.4,313.25) scale(1,1.04)" class="t">10<tspan dy="-3.9" font-size="4.4">&#8722;5</tspan></text>
<text transform="translate(41.4,335.6) scale(1,1.04)" class="t">10<tspan dy="-3.9" font-size="4.4">&#8722;6</tspan></text>
<text x="9.9" y="205.0" font-size="16.3" font-weight="bold">B</text>
<text x="156.45" y="359.8" text-anchor="middle" class="al"><tspan font-style="italic">A</tspan> (nm<tspan dy="-4.1" font-size="5.2">2</tspan><tspan dy="4.1">)</tspan></text>
<text transform="translate(29.2,259.1) rotate(-90)" text-anchor="middle" class="al" font-style="italic">p</text>
<text x="163.8" y="212.9" class="tt">TL-chemical defect</text>
<text x="85.2" y="265.2" class="lg" style="font-size:7.2px"><tspan font-style="italic">P/L</tspan> (%)</text>
<rect x="85.95" y="267.85" width="7.3" height="7.3" fill="#000000"/>
<text x="98" y="274.2" class="lg">0</text>
<circle cx="89.6" cy="281" r="4.02" fill="#ff0000"/>
<text x="98" y="283.7" class="lg">1</text>
<path d="M89.6 285.64L94.34 294.03L84.85 294.03Z" fill="#0000ff"/>
<text x="98" y="293.2" class="lg">2</text>
<path d="M89.6 304.56L94.34 296.17L84.85 296.17Z" fill="#ff00ff"/>
<text x="98" y="302.7" class="lg">3</text>
<path d="M89.6 304.57L94.53 309.5L89.6 314.43L84.67 309.5Z" fill="#008000"/>
<text x="98" y="312.2" class="lg">4</text>
<path d="M94.96 319L86.57 314.25L86.57 323.75Z" fill="#8000ff"/>
<text x="98" y="321.7" class="lg">5</text>
<g>
<rect x="328.85" y="21.28" width="3.1" height="3.1" fill="#000000"/><rect x="337.45" y="29.36" width="3.1" height="3.1" fill="#000000"/><rect x="346.05" y="36.73" width="3.1" height="3.1" fill="#000000"/><rect x="354.65" y="45.94" width="3.1" height="3.1" fill="#000000"/><rect x="363.25" y="53.35" width="3.1" height="3.1" fill="#000000"/><rect x="371.84" y="62.23" width="3.1" height="3.1" fill="#000000"/><rect x="380.44" y="69.98" width="3.1" height="3.1" fill="#000000"/><rect x="389.04" y="78.38" width="3.1" height="3.1" fill="#000000"/><rect x="397.64" y="85.08" width="3.1" height="3.1" fill="#000000"/><rect x="406.24" y="92.68" width="3.1" height="3.1" fill="#000000"/><rect x="414.84" y="98.84" width="3.1" height="3.1" fill="#000000"/><rect x="423.43" y="98.53" width="3.1" height="3.1" fill="#000000"/><rect x="432.03" y="115.28" width="3.1" height="3.1" fill="#000000"/><rect x="440.63" y="110.98" width="3.1" height="3.1" fill="#000000"/><rect x="449.23" y="119.11" width="3.1" height="3.1" fill="#000000"/><rect x="457.83" y="123.06" width="3.1" height="3.1" fill="#000000"/><rect x="466.43" y="143.81" width="3.1" height="3.1" fill="#000000"/><rect x="475.02" y="135.01" width="3.1" height="3.1" fill="#000000"/>
<circle cx="330.4" cy="22.1" r="1.71" fill="#ff0000"/><circle cx="339" cy="29.96" r="1.71" fill="#ff0000"/><circle cx="347.6" cy="38.1" r="1.71" fill="#ff0000"/><circle cx="356.2" cy="46.2" r="1.71" fill="#ff0000"/><circle cx="364.8" cy="54.64" r="1.71" fill="#ff0000"/><circle cx="373.39" cy="62.75" r="1.71" fill="#ff0000"/><circle cx="381.99" cy="71.44" r="1.71" fill="#ff0000"/><circle cx="390.59" cy="79.81" r="1.71" fill="#ff0000"/><circle cx="399.19" cy="86.48" r="1.71" fill="#ff0000"/><circle cx="407.79" cy="92.66" r="1.71" fill="#ff0000"/><circle cx="416.39" cy="99.82" r="1.71" fill="#ff0000"/><circle cx="424.98" cy="99.69" r="1.71" fill="#ff0000"/><circle cx="433.58" cy="110.4" r="1.71" fill="#ff0000"/><circle cx="442.18" cy="112.43" r="1.71" fill="#ff0000"/><circle cx="450.78" cy="118.42" r="1.71" fill="#ff0000"/><circle cx="459.38" cy="124.35" r="1.71" fill="#ff0000"/><circle cx="467.98" cy="142.88" r="1.71" fill="#ff0000"/><circle cx="476.57" cy="137.3" r="1.71" fill="#ff0000"/><circle cx="485.17" cy="150.4" r="1.71" fill="#ff0000"/>
<path d="M330.4 20.62L332.42 24.19L328.39 24.19Z" fill="#0000ff"/><path d="M339 28.39L341.02 31.96L336.99 31.96Z" fill="#0000ff"/><path d="M347.6 36.42L349.61 39.98L345.58 39.98Z" fill="#0000ff"/><path d="M356.2 44.57L358.21 48.13L354.18 48.13Z" fill="#0000ff"/><path d="M364.8 52.92L366.81 56.48L362.78 56.48Z" fill="#0000ff"/><path d="M373.39 60.46L375.41 64.02L371.38 64.02Z" fill="#0000ff"/><path d="M381.99 69.24L384.01 72.8L379.98 72.8Z" fill="#0000ff"/><path d="M390.59 77.79L392.61 81.36L388.58 81.36Z" fill="#0000ff"/><path d="M399.19 85.02L401.2 88.59L397.17 88.59Z" fill="#0000ff"/><path d="M407.79 91.54L409.8 95.11L405.77 95.11Z" fill="#0000ff"/><path d="M416.39 98.06L418.4 101.62L414.37 101.62Z" fill="#0000ff"/><path d="M424.98 98.15L427 101.72L422.97 101.72Z" fill="#0000ff"/><path d="M433.58 110.13L435.6 113.7L431.57 113.7Z" fill="#0000ff"/><path d="M442.18 108.99L444.2 112.55L440.17 112.55Z" fill="#0000ff"/><path d="M450.78 116.36L452.79 119.93L448.76 119.93Z" fill="#0000ff"/><path d="M459.38 122.08L461.39 125.64L457.36 125.64Z" fill="#0000ff"/><path d="M467.98 143.95L469.99 147.52L465.96 147.52Z" fill="#0000ff"/><path d="M476.57 134.24L478.59 137.81L474.56 137.81Z" fill="#0000ff"/><path d="M485.17 148.46L487.19 152.03L483.16 152.03Z" fill="#0000ff"/>
<path d="M330.4 24.29L332.42 20.72L328.39 20.72Z" fill="#ff00ff"/><path d="M339 32.71L341.02 29.15L336.99 29.15Z" fill="#ff00ff"/><path d="M347.6 40.36L349.61 36.79L345.58 36.79Z" fill="#ff00ff"/><path d="M356.2 48.49L358.21 44.92L354.18 44.92Z" fill="#ff00ff"/><path d="M364.8 56.34L366.81 52.77L362.78 52.77Z" fill="#ff00ff"/><path d="M373.39 64.58L375.41 61.02L371.38 61.02Z" fill="#ff00ff"/><path d="M381.99 73.25L384.01 69.69L379.98 69.69Z" fill="#ff00ff"/><path d="M390.59 81.57L392.61 78L388.58 78Z" fill="#ff00ff"/><path d="M399.19 88.51L401.2 84.95L397.17 84.95Z" fill="#ff00ff"/><path d="M407.79 96.22L409.8 92.66L405.77 92.66Z" fill="#ff00ff"/><path d="M416.39 101.55L418.4 97.99L414.37 97.99Z" fill="#ff00ff"/><path d="M424.98 101.36L427 97.79L422.97 97.79Z" fill="#ff00ff"/><path d="M433.58 113.96L435.6 110.4L431.57 110.4Z" fill="#ff00ff"/><path d="M442.18 112.64L444.2 109.08L440.17 109.08Z" fill="#ff00ff"/><path d="M450.78 119.61L452.79 116.04L448.76 116.04Z" fill="#ff00ff"/><path d="M459.38 125.85L461.39 122.29L457.36 122.29Z" fill="#ff00ff"/><path d="M467.98 147.96L469.99 144.39L465.96 144.39Z" fill="#ff00ff"/><path d="M476.57 142.25L478.59 138.69L474.56 138.69Z" fill="#ff00ff"/>
<path d="M330.4 20.21L332.49 22.3L330.4 24.4L328.31 22.3Z" fill="#008000"/><path d="M339 28.27L341.09 30.37L339 32.46L336.91 30.37Z" fill="#008000"/><path d="M347.6 36.88L349.69 38.98L347.6 41.07L345.51 38.98Z" fill="#008000"/><path d="M356.2 44.87L358.29 46.97L356.2 49.06L354.1 46.97Z" fill="#008000"/><path d="M364.8 52.82L366.89 54.91L364.8 57L362.7 54.91Z" fill="#008000"/><path d="M373.39 59.79L375.49 61.88L373.39 63.98L371.3 61.88Z" fill="#008000"/><path d="M381.99 69.49L384.08 71.58L381.99 73.67L379.9 71.58Z" fill="#008000"/><path d="M390.59 77.26L392.68 79.35L390.59 81.45L388.5 79.35Z" fill="#008000"/><path d="M399.19 84.24L401.28 86.33L399.19 88.43L397.1 86.33Z" fill="#008000"/><path d="M407.79 90.8L409.88 92.89L407.79 94.98L405.69 92.89Z" fill="#008000"/><path d="M416.39 97.16L418.48 99.26L416.39 101.35L414.29 99.26Z" fill="#008000"/><path d="M424.98 96.46L427.08 98.55L424.98 100.65L422.89 98.55Z" fill="#008000"/><path d="M433.58 109.79L435.67 111.89L433.58 113.98L431.49 111.89Z" fill="#008000"/><path d="M442.18 113.08L444.27 115.17L442.18 117.26L440.09 115.17Z" fill="#008000"/><path d="M450.78 114.71L452.87 116.8L450.78 118.89L448.69 116.8Z" fill="#008000"/><path d="M459.38 119.59L461.47 121.69L459.38 123.78L457.28 121.69Z" fill="#008000"/><path d="M467.98 140.21L470.07 142.3L467.98 144.39L465.88 142.3Z" fill="#008000"/><path d="M476.57 132.93L478.67 135.02L476.57 137.12L474.48 135.02Z" fill="#008000"/>
<circle cx="330.4" cy="22.25" r="1.76" fill="#8000ff"/><circle cx="339" cy="30.78" r="1.76" fill="#8000ff"/><circle cx="347.6" cy="38.45" r="1.76" fill="#8000ff"/><circle cx="356.2" cy="46.43" r="1.76" fill="#8000ff"/><circle cx="364.8" cy="54.47" r="1.76" fill="#8000ff"/><circle cx="373.39" cy="62.68" r="1.76" fill="#8000ff"/><circle cx="381.99" cy="72.1" r="1.76" fill="#8000ff"/><circle cx="390.59" cy="79.44" r="1.76" fill="#8000ff"/><circle cx="399.19" cy="86.12" r="1.76" fill="#8000ff"/><circle cx="407.79" cy="92.98" r="1.76" fill="#8000ff"/><circle cx="416.39" cy="99.31" r="1.76" fill="#8000ff"/><circle cx="424.98" cy="99.33" r="1.76" fill="#8000ff"/><circle cx="433.58" cy="111.08" r="1.76" fill="#8000ff"/><circle cx="442.18" cy="112.31" r="1.76" fill="#8000ff"/><circle cx="450.78" cy="118.43" r="1.76" fill="#8000ff"/><circle cx="459.38" cy="122.34" r="1.76" fill="#8000ff"/><circle cx="467.98" cy="144.68" r="1.76" fill="#8000ff"/><circle cx="476.57" cy="137.23" r="1.76" fill="#8000ff"/><circle cx="493.77" cy="148.59" r="1.76" fill="#8000ff"/>
<path d="M330.4 25.83L474.47 150.4" stroke="#000000" stroke-width="1.25" fill="none"/>
<path d="M330.4 25.83L479.52 150.4" stroke="#ff0000" stroke-width="1.25" fill="none"/>
<path d="M330.4 25.83L478.08 150.4" stroke="#0000ff" stroke-width="1.25" fill="none"/>
<path d="M330.4 25.83L480.69 150.4" stroke="#ff00ff" stroke-width="1.25" fill="none"/>
<path d="M330.4 26.5L486.61 150.4" stroke="#101080" stroke-width="1.25" fill="none"/>
<path d="M330.4 25.83L482.18 150.4" stroke="#8000ff" stroke-width="1.25" fill="none"/>
</g>
<rect x="308.3" y="14.5" width="195.1" height="135.9" fill="none" stroke="#111" stroke-width="1.15"/>
<path d="M322.24 150.4v-3.3M350.11 150.4v-3.3M377.98 150.4v-3.3M405.85 150.4v-3.3M433.72 150.4v-3.3M461.59 150.4v-3.3M489.46 150.4v-3.3M336.17 150.4v-2.0M364.04 150.4v-2.0M391.91 150.4v-2.0M419.79 150.4v-2.0M447.66 150.4v-2.0M475.53 150.4v-2.0" stroke="#111" stroke-width="1.1" fill="none"/>
<text transform="translate(322.24,160.8) scale(1,1.05)" text-anchor="middle" class="t">0.0</text>
<text transform="translate(350.11,160.8) scale(1,1.05)" text-anchor="middle" class="t">0.2</text>
<text transform="translate(377.98,160.8) scale(1,1.05)" text-anchor="middle" class="t">0.4</text>
<text transform="translate(405.85,160.8) scale(1,1.05)" text-anchor="middle" class="t">0.6</text>
<text transform="translate(433.72,160.8) scale(1,1.05)" text-anchor="middle" class="t">0.8</text>
<text transform="translate(461.59,160.8) scale(1,1.05)" text-anchor="middle" class="t">1.0</text>
<text transform="translate(489.46,160.8) scale(1,1.05)" text-anchor="middle" class="t">1.2</text>
<path d="M308.3 14.5h3.3M308.3 37.15h3.3M308.3 59.8h3.3M308.3 82.45h3.3M308.3 105.1h3.3M308.3 127.75h3.3M308.3 150.4h3.3" stroke="#111" stroke-width="1.1" fill="none"/>
<text transform="translate(304,17.2) scale(1,1.2)" text-anchor="end" class="t"></text>
<text transform="translate(304,39.85) scale(1,1.2)" text-anchor="end" class="t"></text>
<text transform="translate(304,62.5) scale(1,1.2)" text-anchor="end" class="t"></text>
<text transform="translate(304,85.15) scale(1,1.2)" text-anchor="end" class="t"></text>
<text transform="translate(304,107.8) scale(1,1.2)" text-anchor="end" class="t"></text>
<text transform="translate(304,130.45) scale(1,1.2)" text-anchor="end" class="t"></text>
<text transform="translate(304,153.1) scale(1,1.2)" text-anchor="end" class="t"></text>
<text transform="translate(290.4,18.4) scale(1,1.04)" class="t">10<tspan dy="-3.9" font-size="4.4">0</tspan></text>
<text transform="translate(290.4,40.75) scale(1,1.04)" class="t">10<tspan dy="-3.9" font-size="4.4">&#8722;1</tspan></text>
<text transform="translate(290.4,63.1) scale(1,1.04)" class="t">10<tspan dy="-3.9" font-size="4.4">&#8722;2</tspan></text>
<text transform="translate(290.4,85.45) scale(1,1.04)" class="t">10<tspan dy="-3.9" font-size="4.4">&#8722;3</tspan></text>
<text transform="translate(290.4,107.8) scale(1,1.04)" class="t">10<tspan dy="-3.9" font-size="4.4">&#8722;4</tspan></text>
<text transform="translate(290.4,130.15) scale(1,1.04)" class="t">10<tspan dy="-3.9" font-size="4.4">&#8722;5</tspan></text>
<text transform="translate(290.4,152.5) scale(1,1.04)" class="t">10<tspan dy="-3.9" font-size="4.4">&#8722;6</tspan></text>
<text x="262.6" y="25.8" font-size="16.3" font-weight="bold">D</text>
<text x="405.85" y="177.9" text-anchor="middle" class="al"><tspan font-style="italic">A</tspan> (nm<tspan dy="-4.1" font-size="5.2">2</tspan><tspan dy="4.1">)</tspan></text>
<text transform="translate(278.4,77.2) rotate(-90)" text-anchor="middle" class="al" font-style="italic">p</text>
<text x="408.4" y="30.5" class="tt">TB-geometrical defect</text>
<text x="334.2" y="83.3" class="lg" style="font-size:7.2px"><tspan font-style="italic">P/L</tspan> (%)</text>
<rect x="334.95" y="85.95" width="7.3" height="7.3" fill="#000000"/>
<text x="347" y="92.3" class="lg">0</text>
<circle cx="338.6" cy="99.1" r="4.02" fill="#ff0000"/>
<text x="347" y="101.8" class="lg">1</text>
<path d="M338.6 103.74L343.35 112.13L333.86 112.13Z" fill="#0000ff"/>
<text x="347" y="111.3" class="lg">2</text>
<path d="M338.6 122.66L343.35 114.27L333.86 114.27Z" fill="#ff00ff"/>
<text x="347" y="120.8" class="lg">3</text>
<path d="M338.6 122.67L343.53 127.6L338.6 132.53L333.67 127.6Z" fill="#008000"/>
<text x="347" y="130.3" class="lg">4</text>
<path d="M343.96 137.1L335.57 132.35L335.57 141.84Z" fill="#8000ff"/>
<text x="347" y="139.8" class="lg">5</text>
<g>
<rect x="328.85" y="203.1" width="3.1" height="3.1" fill="#000000"/><rect x="337.45" y="210.77" width="3.1" height="3.1" fill="#000000"/><rect x="346.05" y="218.37" width="3.1" height="3.1" fill="#000000"/><rect x="354.65" y="226.47" width="3.1" height="3.1" fill="#000000"/><rect x="363.25" y="234.71" width="3.1" height="3.1" fill="#000000"/><rect x="371.84" y="243.24" width="3.1" height="3.1" fill="#000000"/><rect x="380.44" y="252.01" width="3.1" height="3.1" fill="#000000"/><rect x="389.04" y="260.27" width="3.1" height="3.1" fill="#000000"/><rect x="397.64" y="267.71" width="3.1" height="3.1" fill="#000000"/><rect x="406.24" y="274.36" width="3.1" height="3.1" fill="#000000"/><rect x="414.84" y="280.33" width="3.1" height="3.1" fill="#000000"/><rect x="423.43" y="279.89" width="3.1" height="3.1" fill="#000000"/><rect x="432.03" y="296.53" width="3.1" height="3.1" fill="#000000"/><rect x="440.63" y="295.89" width="3.1" height="3.1" fill="#000000"/><rect x="449.23" y="300.65" width="3.1" height="3.1" fill="#000000"/><rect x="457.83" y="306.87" width="3.1" height="3.1" fill="#000000"/><rect x="466.43" y="326.87" width="3.1" height="3.1" fill="#000000"/><rect x="475.02" y="315.42" width="3.1" height="3.1" fill="#000000"/>
<circle cx="330.4" cy="204.28" r="1.71" fill="#ff0000"/><circle cx="339" cy="212.7" r="1.71" fill="#ff0000"/><circle cx="347.6" cy="220.31" r="1.71" fill="#ff0000"/><circle cx="356.2" cy="228.62" r="1.71" fill="#ff0000"/><circle cx="364.8" cy="236.68" r="1.71" fill="#ff0000"/><circle cx="373.39" cy="244.17" r="1.71" fill="#ff0000"/><circle cx="381.99" cy="253.55" r="1.71" fill="#ff0000"/><circle cx="390.59" cy="261.9" r="1.71" fill="#ff0000"/><circle cx="399.19" cy="268.36" r="1.71" fill="#ff0000"/><circle cx="407.79" cy="275.36" r="1.71" fill="#ff0000"/><circle cx="416.39" cy="281.85" r="1.71" fill="#ff0000"/><circle cx="424.98" cy="280.83" r="1.71" fill="#ff0000"/><circle cx="433.58" cy="293.17" r="1.71" fill="#ff0000"/><circle cx="442.18" cy="296.54" r="1.71" fill="#ff0000"/><circle cx="450.78" cy="299.18" r="1.71" fill="#ff0000"/><circle cx="459.38" cy="309.5" r="1.71" fill="#ff0000"/><circle cx="467.98" cy="325.95" r="1.71" fill="#ff0000"/><circle cx="476.57" cy="316.9" r="1.71" fill="#ff0000"/><circle cx="485.17" cy="332.3" r="1.71" fill="#ff0000"/>
<path d="M330.4 202.89L332.42 206.45L328.39 206.45Z" fill="#0000ff"/><path d="M339 211.08L341.02 214.64L336.99 214.64Z" fill="#0000ff"/><path d="M347.6 218.98L349.61 222.54L345.58 222.54Z" fill="#0000ff"/><path d="M356.2 227.01L358.21 230.58L354.18 230.58Z" fill="#0000ff"/><path d="M364.8 235.56L366.81 239.12L362.78 239.12Z" fill="#0000ff"/><path d="M373.39 243.3L375.41 246.86L371.38 246.86Z" fill="#0000ff"/><path d="M381.99 251.7L384.01 255.26L379.98 255.26Z" fill="#0000ff"/><path d="M390.59 259.63L392.61 263.2L388.58 263.2Z" fill="#0000ff"/><path d="M399.19 266.27L401.2 269.84L397.17 269.84Z" fill="#0000ff"/><path d="M407.79 273.26L409.8 276.82L405.77 276.82Z" fill="#0000ff"/><path d="M416.39 279.66L418.4 283.23L414.37 283.23Z" fill="#0000ff"/><path d="M424.98 279.04L427 282.61L422.97 282.61Z" fill="#0000ff"/><path d="M433.58 293.14L435.6 296.7L431.57 296.7Z" fill="#0000ff"/><path d="M442.18 293.35L444.2 296.92L440.17 296.92Z" fill="#0000ff"/><path d="M450.78 300.64L452.79 304.2L448.76 304.2Z" fill="#0000ff"/><path d="M459.38 303.41L461.39 306.98L457.36 306.98Z" fill="#0000ff"/><path d="M467.98 326.11L469.99 329.68L465.96 329.68Z" fill="#0000ff"/><path d="M476.57 315.96L478.59 319.52L474.56 319.52Z" fill="#0000ff"/>
<path d="M330.4 206.16L332.42 202.59L328.39 202.59Z" fill="#ff00ff"/><path d="M339 214.34L341.02 210.77L336.99 210.77Z" fill="#ff00ff"/><path d="M347.6 222.68L349.61 219.11L345.58 219.11Z" fill="#ff00ff"/><path d="M356.2 230.56L358.21 226.99L354.18 226.99Z" fill="#ff00ff"/><path d="M364.8 238.33L366.81 234.76L362.78 234.76Z" fill="#ff00ff"/><path d="M373.39 246.38L375.41 242.82L371.38 242.82Z" fill="#ff00ff"/><path d="M381.99 254.24L384.01 250.68L379.98 250.68Z" fill="#ff00ff"/><path d="M390.59 263.52L392.61 259.96L388.58 259.96Z" fill="#ff00ff"/><path d="M399.19 270.15L401.2 266.58L397.17 266.58Z" fill="#ff00ff"/><path d="M407.79 277.08L409.8 273.51L405.77 273.51Z" fill="#ff00ff"/><path d="M416.39 283.62L418.4 280.05L414.37 280.05Z" fill="#ff00ff"/><path d="M424.98 283.33L427 279.76L422.97 279.76Z" fill="#ff00ff"/><path d="M433.58 295.53L435.6 291.96L431.57 291.96Z" fill="#ff00ff"/><path d="M442.18 297.94L444.2 294.38L440.17 294.38Z" fill="#ff00ff"/><path d="M450.78 305.19L452.79 301.63L448.76 301.63Z" fill="#ff00ff"/><path d="M459.38 306.63L461.39 303.07L457.36 303.07Z" fill="#ff00ff"/><path d="M467.98 333.34L469.99 329.77L465.96 329.77Z" fill="#ff00ff"/><path d="M476.57 322.11L478.59 318.54L474.56 318.54Z" fill="#ff00ff"/>
<path d="M330.4 202.78L332.49 204.88L330.4 206.97L328.31 204.88Z" fill="#008000"/><path d="M339 210.63L341.09 212.72L339 214.81L336.91 212.72Z" fill="#008000"/><path d="M347.6 219.11L349.69 221.21L347.6 223.3L345.51 221.21Z" fill="#008000"/><path d="M356.2 225.82L358.29 227.91L356.2 230.01L354.1 227.91Z" fill="#008000"/><path d="M364.8 234.47L366.89 236.57L364.8 238.66L362.7 236.57Z" fill="#008000"/><path d="M373.39 242.49L375.49 244.58L373.39 246.68L371.3 244.58Z" fill="#008000"/><path d="M381.99 251.14L384.08 253.23L381.99 255.32L379.9 253.23Z" fill="#008000"/><path d="M390.59 259.5L392.68 261.59L390.59 263.68L388.5 261.59Z" fill="#008000"/><path d="M399.19 266.41L401.28 268.5L399.19 270.59L397.1 268.5Z" fill="#008000"/><path d="M407.79 272.94L409.88 275.03L407.79 277.12L405.69 275.03Z" fill="#008000"/><path d="M416.39 279.66L418.48 281.76L416.39 283.85L414.29 281.76Z" fill="#008000"/><path d="M424.98 278.49L427.08 280.59L424.98 282.68L422.89 280.59Z" fill="#008000"/><path d="M433.58 289.64L435.67 291.73L433.58 293.82L431.49 291.73Z" fill="#008000"/><path d="M442.18 292.1L444.27 294.19L442.18 296.28L440.09 294.19Z" fill="#008000"/><path d="M450.78 296.62L452.87 298.72L450.78 300.81L448.69 298.72Z" fill="#008000"/><path d="M459.38 301.94L461.47 304.04L459.38 306.13L457.28 304.04Z" fill="#008000"/><path d="M467.98 321.16L470.07 323.26L467.98 325.35L465.88 323.26Z" fill="#008000"/><path d="M476.57 314.03L478.67 316.12L476.57 318.21L474.48 316.12Z" fill="#008000"/><path d="M493.77 328.4L495.86 330.49L493.77 332.58L491.68 330.49Z" fill="#008000"/>
<path d="M332.34 204.28L328.77 202.26L328.77 206.29Z" fill="#8000ff"/><path d="M340.94 211.73L337.37 209.72L337.37 213.75Z" fill="#8000ff"/><path d="M349.54 220.4L345.97 218.38L345.97 222.41Z" fill="#8000ff"/><path d="M358.13 228.19L354.57 226.17L354.57 230.2Z" fill="#8000ff"/><path d="M366.73 236.01L363.17 234L363.17 238.03Z" fill="#8000ff"/><path d="M375.33 244.5L371.77 242.48L371.77 246.51Z" fill="#8000ff"/><path d="M383.93 253.69L380.36 251.68L380.36 255.71Z" fill="#8000ff"/><path d="M392.53 260.74L388.96 258.73L388.96 262.76Z" fill="#8000ff"/><path d="M401.13 268.58L397.56 266.56L397.56 270.59Z" fill="#8000ff"/><path d="M409.72 274.74L406.16 272.72L406.16 276.75Z" fill="#8000ff"/><path d="M418.32 281.17L414.76 279.16L414.76 283.19Z" fill="#8000ff"/><path d="M426.92 279.86L423.36 277.84L423.36 281.87Z" fill="#8000ff"/><path d="M435.52 292.89L431.95 290.87L431.95 294.9Z" fill="#8000ff"/><path d="M444.12 294.81L440.55 292.8L440.55 296.83Z" fill="#8000ff"/><path d="M452.72 300.1L449.15 298.08L449.15 302.11Z" fill="#8000ff"/><path d="M461.31 306.43L457.75 304.41L457.75 308.44Z" fill="#8000ff"/><path d="M469.91 321.04L466.35 319.02L466.35 323.05Z" fill="#8000ff"/><path d="M478.51 319.56L474.95 317.54L474.95 321.57Z" fill="#8000ff"/><path d="M487.11 332.3L483.54 330.29L483.54 334.31Z" fill="#8000ff"/><path d="M495.71 330.49L492.14 328.47L492.14 332.5Z" fill="#8000ff"/>
<path d="M330.4 207.73L476.67 332.3" stroke="#000000" stroke-width="1.25" fill="none"/>
<path d="M330.4 207.73L479.52 332.3" stroke="#ff0000" stroke-width="1.25" fill="none"/>
<path d="M330.4 210.9L484.41 332.3" stroke="#0000ff" stroke-width="1.25" fill="none"/>
<path d="M330.4 207.73L479.52 332.3" stroke="#ff00ff" stroke-width="1.25" fill="none"/>
<path d="M330.4 208.86L485.4 332.3" stroke="#101080" stroke-width="1.25" fill="none"/>
<path d="M330.4 207.5L483.97 332.3" stroke="#8000ff" stroke-width="1.25" fill="none"/>
</g>
<rect x="308.3" y="196.4" width="195.1" height="135.9" fill="none" stroke="#111" stroke-width="1.15"/>
<path d="M322.24 332.3v-3.3M350.11 332.3v-3.3M377.98 332.3v-3.3M405.85 332.3v-3.3M433.72 332.3v-3.3M461.59 332.3v-3.3M489.46 332.3v-3.3M336.17 332.3v-2.0M364.04 332.3v-2.0M391.91 332.3v-2.0M419.79 332.3v-2.0M447.66 332.3v-2.0M475.53 332.3v-2.0" stroke="#111" stroke-width="1.1" fill="none"/>
<text transform="translate(322.24,342.7) scale(1,1.05)" text-anchor="middle" class="t">0.0</text>
<text transform="translate(350.11,342.7) scale(1,1.05)" text-anchor="middle" class="t">0.2</text>
<text transform="translate(377.98,342.7) scale(1,1.05)" text-anchor="middle" class="t">0.4</text>
<text transform="translate(405.85,342.7) scale(1,1.05)" text-anchor="middle" class="t">0.6</text>
<text transform="translate(433.72,342.7) scale(1,1.05)" text-anchor="middle" class="t">0.8</text>
<text transform="translate(461.59,342.7) scale(1,1.05)" text-anchor="middle" class="t">1.0</text>
<text transform="translate(489.46,342.7) scale(1,1.05)" text-anchor="middle" class="t">1.2</text>
<path d="M308.3 196.4h3.3M308.3 219.05h3.3M308.3 241.7h3.3M308.3 264.35h3.3M308.3 287h3.3M308.3 309.65h3.3M308.3 332.3h3.3" stroke="#111" stroke-width="1.1" fill="none"/>
<text transform="translate(304,199.1) scale(1,1.2)" text-anchor="end" class="t"></text>
<text transform="translate(304,221.75) scale(1,1.2)" text-anchor="end" class="t"></text>
<text transform="translate(304,244.4) scale(1,1.2)" text-anchor="end" class="t"></text>
<text transform="translate(304,267.05) scale(1,1.2)" text-anchor="end" class="t"></text>
<text transform="translate(304,289.7) scale(1,1.2)" text-anchor="end" class="t"></text>
<text transform="translate(304,312.35) scale(1,1.2)" text-anchor="end" class="t"></text>
<text transform="translate(304,335) scale(1,1.2)" text-anchor="end" class="t"></text>
<text transform="translate(290.4,201.5) scale(1,1.04)" class="t">10<tspan dy="-3.9" font-size="4.4">0</tspan></text>
<text transform="translate(290.4,223.85) scale(1,1.04)" class="t">10<tspan dy="-3.9" font-size="4.4">&#8722;1</tspan></text>
<text transform="translate(290.4,246.2) scale(1,1.04)" class="t">10<tspan dy="-3.9" font-size="4.4">&#8722;2</tspan></text>
<text transform="translate(290.4,268.55) scale(1,1.04)" class="t">10<tspan dy="-3.9" font-size="4.4">&#8722;3</tspan></text>
<text transform="translate(290.4,290.9) scale(1,1.04)" class="t">10<tspan dy="-3.9" font-size="4.4">&#8722;4</tspan></text>
<text transform="translate(290.4,313.25) scale(1,1.04)" class="t">10<tspan dy="-3.9" font-size="4.4">&#8722;5</tspan></text>
<text transform="translate(290.4,335.6) scale(1,1.04)" class="t">10<tspan dy="-3.9" font-size="4.4">&#8722;6</tspan></text>
<text x="262.4" y="204.8" font-size="16.3" font-weight="bold">E</text>
<text x="405.85" y="359.8" text-anchor="middle" class="al"><tspan font-style="italic">A</tspan> (nm<tspan dy="-4.1" font-size="5.2">2</tspan><tspan dy="4.1">)</tspan></text>
<text transform="translate(278.4,259.1) rotate(-90)" text-anchor="middle" class="al" font-style="italic">p</text>
<text x="408.4" y="212.9" class="tt">TL-geometrical defect</text>
<text x="334.2" y="265.2" class="lg" style="font-size:7.2px"><tspan font-style="italic">P/L</tspan> (%)</text>
<rect x="334.95" y="267.85" width="7.3" height="7.3" fill="#000000"/>
<text x="347" y="274.2" class="lg">0</text>
<circle cx="338.6" cy="281" r="4.02" fill="#ff0000"/>
<text x="347" y="283.7" class="lg">1</text>
<path d="M338.6 285.64L343.35 294.03L333.86 294.03Z" fill="#0000ff"/>
<text x="347" y="293.2" class="lg">2</text>
<path d="M338.6 304.56L343.35 296.17L333.86 296.17Z" fill="#ff00ff"/>
<text x="347" y="302.7" class="lg">3</text>
<path d="M338.6 304.57L343.53 309.5L338.6 314.43L333.67 309.5Z" fill="#008000"/>
<text x="347" y="312.2" class="lg">4</text>
<path d="M343.96 319L335.57 314.25L335.57 323.75Z" fill="#8000ff"/>
<text x="347" y="321.7" class="lg">5</text>
<polyline points="68.04,396.17 103.38,429.23 138.73,454.3 174.07,464.38 209.42,474.83 244.76,479.73" fill="none" stroke="#000" stroke-width="1.2"/>
<polyline points="68.04,396.17 103.38,439.22 138.73,454.75 174.07,472.92 209.42,477.92 244.76,487.91" fill="none" stroke="#f00" stroke-width="1.2"/>
<path d="M103.38 418.51V439.95M101.58 418.51h3.6M101.58 439.95h3.6M138.73 445.22V463.38M136.93 445.22h3.6M136.93 463.38h3.6M174.07 455.66V473.1M172.27 455.66h3.6M172.27 473.1h3.6M209.42 466.11V483.55M207.62 466.11h3.6M207.62 483.55h3.6M244.76 471.56V487.91M242.96 471.56h3.6M242.96 487.91h3.6" stroke="#000" stroke-width="1.15" fill="none"/>
<rect x="66.94" y="395.07" width="2.2" height="2.2" fill="#000"/>
<rect x="102.28" y="428.13" width="2.2" height="2.2" fill="#000"/>
<rect x="137.63" y="453.2" width="2.2" height="2.2" fill="#000"/>
<rect x="172.97" y="463.28" width="2.2" height="2.2" fill="#000"/>
<rect x="208.32" y="473.73" width="2.2" height="2.2" fill="#000"/>
<rect x="243.66" y="478.63" width="2.2" height="2.2" fill="#000"/>
<path d="M68.04 388.36V403.98M66.24 388.36h3.6M66.24 403.98h3.6M103.38 430.14V448.31M101.58 430.14h3.6M101.58 448.31h3.6M138.73 445.22V464.29M136.93 445.22h3.6M136.93 464.29h3.6M174.07 463.84V482M172.27 463.84h3.6M172.27 482h3.6M209.42 469.29V486.55M207.62 469.29h3.6M207.62 486.55h3.6M244.76 479.28V496.54M242.96 479.28h3.6M242.96 496.54h3.6" stroke="#f00" stroke-width="1.15" fill="none"/>
<rect x="66.94" y="395.07" width="2.2" height="2.2" fill="#f00"/>
<rect x="102.28" y="438.12" width="2.2" height="2.2" fill="#f00"/>
<rect x="137.63" y="453.65" width="2.2" height="2.2" fill="#f00"/>
<rect x="172.97" y="471.82" width="2.2" height="2.2" fill="#f00"/>
<rect x="208.32" y="476.82" width="2.2" height="2.2" fill="#f00"/>
<rect x="243.66" y="486.81" width="2.2" height="2.2" fill="#f00"/>
<rect x="59.2" y="378" width="194.4" height="136.25" fill="none" stroke="#111" stroke-width="1.15"/>
<path d="M68.04 514.25v-3.3M103.38 514.25v-3.3M138.73 514.25v-3.3M174.07 514.25v-3.3M209.42 514.25v-3.3M244.76 514.25v-3.3M85.71 514.25v-2.0M121.05 514.25v-2.0M156.4 514.25v-2.0M191.75 514.25v-2.0M227.09 514.25v-2.0" stroke="#111" stroke-width="1.1" fill="none"/>
<text transform="translate(68.04,524.85) scale(1,1.05)" text-anchor="middle" class="t">0</text>
<text transform="translate(103.38,524.85) scale(1,1.05)" text-anchor="middle" class="t">1</text>
<text transform="translate(138.73,524.85) scale(1,1.05)" text-anchor="middle" class="t">2</text>
<text transform="translate(174.07,524.85) scale(1,1.05)" text-anchor="middle" class="t">3</text>
<text transform="translate(209.42,524.85) scale(1,1.05)" text-anchor="middle" class="t">4</text>
<text transform="translate(244.76,524.85) scale(1,1.05)" text-anchor="middle" class="t">5</text>
<path d="M59.2 505.17h3.3M59.2 487h3.3M59.2 468.83h3.3M59.2 450.67h3.3M59.2 432.5h3.3M59.2 414.33h3.3M59.2 396.17h3.3M59.2 378h3.3M59.2 496.08h2.0M59.2 477.92h2.0M59.2 459.75h2.0M59.2 441.58h2.0M59.2 423.42h2.0M59.2 405.25h2.0M59.2 387.08h2.0" stroke="#111" stroke-width="1.1" fill="none"/>
<text transform="translate(54.9,507.87) scale(1,1.2)" text-anchor="end" class="t">1.8</text>
<text transform="translate(54.9,489.7) scale(1,1.2)" text-anchor="end" class="t">2.0</text>
<text transform="translate(54.9,471.53) scale(1,1.2)" text-anchor="end" class="t">2.2</text>
<text transform="translate(54.9,453.37) scale(1,1.2)" text-anchor="end" class="t">2.4</text>
<text transform="translate(54.9,435.2) scale(1,1.2)" text-anchor="end" class="t">2.6</text>
<text transform="translate(54.9,417.03) scale(1,1.2)" text-anchor="end" class="t">2.8</text>
<text transform="translate(54.9,398.87) scale(1,1.2)" text-anchor="end" class="t">3.0</text>
<text transform="translate(54.9,380.7) scale(1,1.2)" text-anchor="end" class="t">3.2</text>
<text x="9.7" y="383.3" font-size="16.3" font-weight="bold">C</text>
<text x="156.4" y="540.6" text-anchor="middle" class="al"><tspan font-style="italic">P/L</tspan> (%)</text>
<text transform="translate(29.9,445.2) rotate(-90)" text-anchor="middle" class="al" font-style="italic">k</text>
<path d="M201 393.7h18.8" stroke="#000" stroke-width="1.2"/>
<rect x="207.2" y="390.4" width="6.6" height="6.6" fill="#000"/>
<text x="222.3" y="396.4" class="lg" style="font-size:7.8px">TB</text>
<path d="M201 403.9h18.8" stroke="#f00" stroke-width="1.2"/>
<circle cx="210.5" cy="403.9" r="3.8" fill="#f00"/>
<text x="222.3" y="406.6" class="lg" style="font-size:7.8px">TL</text>
<polyline points="316.89,417.17 352.43,434.54 387.98,415.24 423.52,423.08 459.07,455.66 494.61,453.28" fill="none" stroke="#000" stroke-width="1.2"/>
<polyline points="316.89,417.17 352.43,459.18 387.98,457.48 423.52,420.46 459.07,438.63 494.61,434.09" fill="none" stroke="#f00" stroke-width="1.2"/>
<path d="M352.43 420.58V448.51M350.63 420.58h3.6M350.63 448.51h3.6M387.98 399.91V430.57M386.18 399.91h3.6M386.18 430.57h3.6M423.52 409.45V436.7M421.72 409.45h3.6M421.72 436.7h3.6M459.07 439.77V471.56M457.27 439.77h3.6M457.27 471.56h3.6M494.61 441.36V465.2M492.81 441.36h3.6M492.81 465.2h3.6" stroke="#000" stroke-width="1.15" fill="none"/>
<rect x="315.79" y="416.07" width="2.2" height="2.2" fill="#000"/>
<rect x="351.33" y="433.44" width="2.2" height="2.2" fill="#000"/>
<rect x="386.88" y="414.14" width="2.2" height="2.2" fill="#000"/>
<rect x="422.42" y="421.98" width="2.2" height="2.2" fill="#000"/>
<rect x="457.97" y="454.56" width="2.2" height="2.2" fill="#000"/>
<rect x="493.51" y="452.18" width="2.2" height="2.2" fill="#000"/>
<path d="M316.89 402.98V431.36M315.09 402.98h3.6M315.09 431.36h3.6M352.43 441.7V476.67M350.63 441.7h3.6M350.63 476.67h3.6M387.98 438.4V476.55M386.18 438.4h3.6M386.18 476.55h3.6M423.52 404.23V436.7M421.72 404.23h3.6M421.72 436.7h3.6M459.07 423.87V453.39M457.27 423.87h3.6M457.27 453.39h3.6M494.61 419.9V448.28M492.81 419.9h3.6M492.81 448.28h3.6" stroke="#f00" stroke-width="1.15" fill="none"/>
<rect x="315.79" y="416.07" width="2.2" height="2.2" fill="#f00"/>
<rect x="351.33" y="458.08" width="2.2" height="2.2" fill="#f00"/>
<rect x="386.88" y="456.38" width="2.2" height="2.2" fill="#f00"/>
<rect x="422.42" y="419.36" width="2.2" height="2.2" fill="#f00"/>
<rect x="457.97" y="437.53" width="2.2" height="2.2" fill="#f00"/>
<rect x="493.51" y="432.99" width="2.2" height="2.2" fill="#f00"/>
<rect x="308" y="378" width="195.5" height="136.25" fill="none" stroke="#111" stroke-width="1.15"/>
<path d="M316.89 514.25v-3.3M352.43 514.25v-3.3M387.98 514.25v-3.3M423.52 514.25v-3.3M459.07 514.25v-3.3M494.61 514.25v-3.3M334.66 514.25v-2.0M370.2 514.25v-2.0M405.75 514.25v-2.0M441.3 514.25v-2.0M476.84 514.25v-2.0" stroke="#111" stroke-width="1.1" fill="none"/>
<text transform="translate(316.89,524.85) scale(1,1.05)" text-anchor="middle" class="t">0</text>
<text transform="translate(352.43,524.85) scale(1,1.05)" text-anchor="middle" class="t">1</text>
<text transform="translate(387.98,524.85) scale(1,1.05)" text-anchor="middle" class="t">2</text>
<text transform="translate(423.52,524.85) scale(1,1.05)" text-anchor="middle" class="t">3</text>
<text transform="translate(459.07,524.85) scale(1,1.05)" text-anchor="middle" class="t">4</text>
<text transform="translate(494.61,524.85) scale(1,1.05)" text-anchor="middle" class="t">5</text>
<path d="M308 502.9h3.3M308 480.19h3.3M308 457.48h3.3M308 434.77h3.3M308 412.06h3.3M308 389.35h3.3M308 491.54h2.0M308 468.83h2.0M308 446.12h2.0M308 423.42h2.0M308 400.71h2.0" stroke="#111" stroke-width="1.1" fill="none"/>
<text transform="translate(303.7,505.6) scale(1,1.2)" text-anchor="end" class="t">4.4</text>
<text transform="translate(303.7,482.89) scale(1,1.2)" text-anchor="end" class="t">4.6</text>
<text transform="translate(303.7,460.18) scale(1,1.2)" text-anchor="end" class="t">4.8</text>
<text transform="translate(303.7,437.47) scale(1,1.2)" text-anchor="end" class="t">5.0</text>
<text transform="translate(303.7,414.76) scale(1,1.2)" text-anchor="end" class="t">5.2</text>
<text transform="translate(303.7,392.05) scale(1,1.2)" text-anchor="end" class="t">5.4</text>
<text x="262.4" y="383.6" font-size="16.3" font-weight="bold">F</text>
<text x="405.75" y="540.6" text-anchor="middle" class="al"><tspan font-style="italic">P/L</tspan> (%)</text>
<text transform="translate(279.1,445.2) rotate(-90)" text-anchor="middle" class="al" font-style="italic">k</text>
<path d="M450.9 393.7h18.8" stroke="#000" stroke-width="1.2"/>
<rect x="457.1" y="390.4" width="6.6" height="6.6" fill="#000"/>
<text x="472.2" y="396.4" class="lg" style="font-size:7.8px">TB</text>
<path d="M450.9 403.9h18.8" stroke="#f00" stroke-width="1.2"/>
<circle cx="460.4" cy="403.9" r="3.8" fill="#f00"/>
<text x="472.2" y="406.6" class="lg" style="font-size:7.8px">TL</text>
</svg></body></html>
